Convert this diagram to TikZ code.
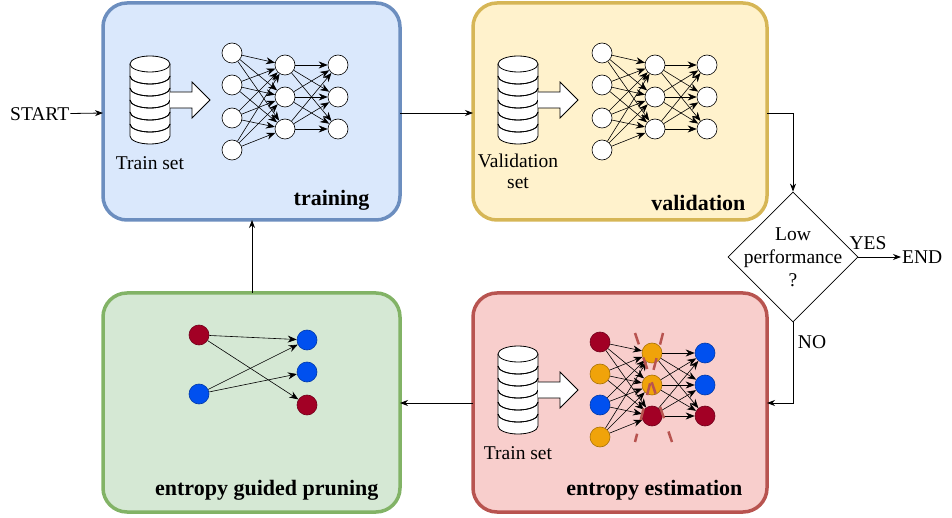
\documentclass[tikz,border=0pt]{standalone}
\usepackage{fontspec}
\setmainfont{Liberation Serif}
\usetikzlibrary{arrows.meta,shapes.geometric}
\definecolor{bS}{HTML}{6C8EBF}\definecolor{bF}{HTML}{DAE8FC}
\definecolor{yS}{HTML}{D6B656}\definecolor{yF}{HTML}{FFF2CC}
\definecolor{gS}{HTML}{82B366}\definecolor{gF}{HTML}{D5E8D4}
\definecolor{rS}{HTML}{B85450}\definecolor{rF}{HTML}{F8CECC}
\definecolor{nR}{HTML}{A20025}\definecolor{nO}{HTML}{F0A30A}\definecolor{nB}{HTML}{0050EF}
\tikzset{
 box/.style={rounded corners=24pt,line width=3.5pt},
 neu/.style={circle,draw,line width=0.6pt,minimum size=20pt,inner sep=0pt,fill=white},
 cn/.style={-{Stealth[length=9pt,width=7pt]},line width=0.6pt},
 fl/.style={-{Stealth[length=8pt,width=6pt]},line width=0.8pt},
 lbl/.style={font=\fontsize{19.5}{21}\selectfont},
 bl/.style={font=\fontsize{22}{24}\selectfont\bfseries,anchor=south east},
}
\newcommand{\dbase}[3]{% x, ytop, name
 \foreach \k in {5,4,3,2,1,0}{
  \draw[line width=0.8pt,fill=white] (#1,#2+8+\k*12) -- (#1,#2+8+\k*12+12) arc[start angle=180,end angle=360,x radius=20,y radius=-8] -- (#1+40,#2+8+\k*12);
 }
 \foreach \k in {1,...,5}{\draw[line width=0.8pt] (#1,#2+8+\k*12) arc[start angle=180,end angle=360,x radius=20,y radius=-8];}
 \draw[line width=0.8pt,fill=white] (#1+20,#2+8) ellipse[x radius=20,y radius=8];
 \coordinate (#3) at (#1+40,#2+42);
}
\newcommand{\bigarr}[2]{%
 \draw[line width=0.8pt,fill=white] (#1,#2-8) -- (#1+22,#2-8) -- (#1+22,#2-18) -- (#1+40,#2) -- (#1+22,#2+18) -- (#1+22,#2+8) -- (#1,#2+8);
}
\begin{document}
\begin{tikzpicture}[x=1pt,y=-1pt]
\useasboundingbox (0,0) rectangle (952,518);
\draw[box,draw=bS,fill=bF] (103,3) rectangle (400,220);
\draw[box,draw=yS,fill=yF] (473,3) rectangle (767,220);
\draw[box,draw=gS,fill=gF] (103,293) rectangle (400,512);
\draw[box,draw=rS,fill=rF] (473,293) rectangle (767,512);
\coordinate (trR) at (400,113); \coordinate (trL) at (103,113);
\coordinate (vaL) at (473,113); \coordinate (vaR) at (767,113);
\coordinate (trB) at (252,220); \coordinate (prT) at (252,293);
\coordinate (prR) at (400,403); \coordinate (esL) at (473,403); \coordinate (esR) at (767,403);
\node[bl] at (373,214) {training};
\node[bl] at (749,214) {validation};
\node[bl] at (382,504) {entropy guided pruning};
\node[bl] at (746,504) {entropy estimation};
% training net
\dbase{130}{56}{db1}
\bigarr{170}{100}
\node[lbl] at (150,163) {Train set};
\foreach \i/\y in {1/53,2/85,3/118,4/150}{\node[neu] (a\i) at (232,\y) {};}
\foreach \i/\y in {1/65,2/97,3/129}{\node[neu] (b\i) at (285,\y) {}; \node[neu] (c\i) at (338,\y) {};}
\foreach \i in {1,...,4}{\foreach \j in {1,2,3}{\draw[cn] (a\i) -- (b\j);}}
\foreach \i in {1,2,3}{\foreach \j in {1,2,3}{\draw[cn] (b\i) -- (c\j);}}
% validation net
\dbase{498}{56}{db2}
\bigarr{538}{100}
\node[lbl,align=center] at (518,171) {Validation\\set};
\foreach \i/\y in {1/53,2/85,3/118,4/150}{\node[neu] (d\i) at (602,\y) {};}
\foreach \i/\y in {1/65,2/97,3/129}{\node[neu] (e\i) at (655,\y) {}; \node[neu] (f\i) at (707,\y) {};}
\foreach \i in {1,...,4}{\foreach \j in {1,2,3}{\draw[cn] (d\i) -- (e\j);}}
\foreach \i in {1,2,3}{\foreach \j in {1,2,3}{\draw[cn] (e\i) -- (f\j);}}
% estimation net
\dbase{498}{346}{db3}
\bigarr{538}{390}
\node[lbl] at (518,453) {Train set};
\foreach \i/\y/\c in {1/342/nR,2/374/nO,3/405/nB,4/437/nO}{\node[neu,fill=\c,draw=\c!70!black] (g\i) at (600,\y) {};}
\foreach \i/\y/\c/\d in {1/353/nO/nB,2/385/nO/nB,3/416/nR/nR}{\node[neu,fill=\c,draw=\c!70!black] (h\i) at (652,\y) {}; \node[neu,fill=\d,draw=\d!70!black] (k\i) at (705,\y) {};}
\foreach \i in {1,...,4}{\foreach \j in {1,2,3}{\draw[cn] (g\i) -- (h\j);}}
\foreach \i in {1,2,3}{\foreach \j in {1,2,3}{\draw[cn] (h\i) -- (k\j);}}
\draw[rS,line width=2.5pt,dash pattern=on 12pt off 14pt] (635,333) -- (672,442);
\draw[rS,line width=2.5pt,dash pattern=on 12pt off 14pt] (663,333) -- (635,442);
% pruning
\node[neu,fill=nR,draw=nR!70!black] (p1) at (199,335) {};
\node[neu,fill=nB,draw=nB!70!black] (p2) at (199,394) {};
\node[neu,fill=nB,draw=nB!70!black] (q1) at (307,340) {};
\node[neu,fill=nB,draw=nB!70!black] (q2) at (307,372) {};
\node[neu,fill=nR,draw=nR!70!black] (q3) at (307,405) {};
\draw[cn] (p1) -- (q1); \draw[cn] (p1) -- (q3); \draw[cn] (p2) -- (q1); \draw[cn] (p2) -- (q2);
% flow
\node[lbl,anchor=west,inner sep=1pt] (start) at (9,114) {START};
\draw[fl] (start) -- (trL);
\draw[fl] (trR) -- (vaL);
\node[diamond,draw,line width=0.8pt,fill=white,minimum width=130pt,minimum height=130pt,inner sep=0pt,aspect=1] (dec) at (793,257) {};
\node[align=center,font=\fontsize{19.5}{23}\selectfont] (dect) at (dec.center) {Low\\performance\\?};
\draw[fl] (vaR) -| (dec.north);
\node[lbl,anchor=west,inner sep=1pt] (endn) at (901,257) {END};
\draw[fl] (dec.east) -- (endn.west);
\node[lbl] at (868,243) {YES};
\draw[fl] (dec.south) |- (esR);
\node[lbl] at (812,342) {NO};
\draw[fl] (esL) -- (prR);
\draw[fl] (prT) -- (trB);
\end{tikzpicture}
\end{document}
